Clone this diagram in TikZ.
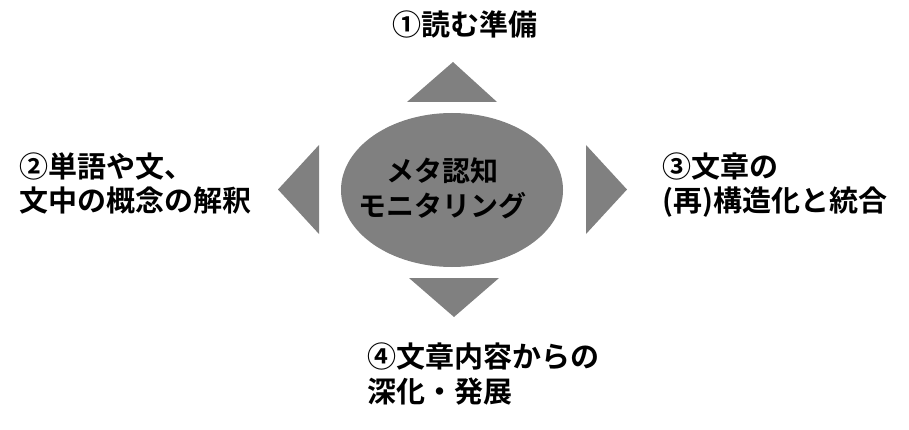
\documentclass[tikz,border=0pt]{standalone}
\usepackage{fontspec}
\setmainfont{Noto Sans CJK JP Bold}
\usetikzlibrary{shapes.geometric}
\definecolor{shapegray}{HTML}{808080}
\tikzset{
  shapefill/.style={fill=shapegray, draw=none},
  lbl/.style={inner sep=0pt, align=left, font=\fontsize{29pt}{35pt}\selectfont, text=black},
  clbl/.style={inner sep=0pt, align=center, font=\fontsize{28pt}{35pt}\selectfont, text=black}
}
\begin{document}
\begin{tikzpicture}[x=1pt,y=-1pt]
\useasboundingbox (0,0) rectangle (909,430);
% center ellipse
\fill[shapegray] (452,190) ellipse [x radius=111, y radius=77];
% arrows (triangles)
\fill[shapefill] (407,102) -- (453,62) -- (497,102) -- cycle;
\fill[shapefill] (319,145) -- (278,189.5) -- (319,234) -- cycle;
\fill[shapefill] (586,145) -- (627,189.5) -- (586,234) -- cycle;
\fill[shapefill] (409,278) -- (454,317) -- (499,278) -- cycle;
% labels (anchor base = baseline of last line)
\node[lbl, anchor=base] (t1) at (465,36) {①読む準備};
\node[lbl, anchor=base west] (t2) at (19,212) {②単語や文、\\文中の概念の解釈};
\node[lbl, anchor=base west] (t3) at (662,212) {③文章の\\(再)構造化と統合};
\node[lbl, anchor=base west] (t4) at (367,402) {④文章内容からの\\深化・発展};
\node[clbl, anchor=base] (c) at (442,217) {メタ認知\\モニタリング};
\end{tikzpicture}
\end{document}
